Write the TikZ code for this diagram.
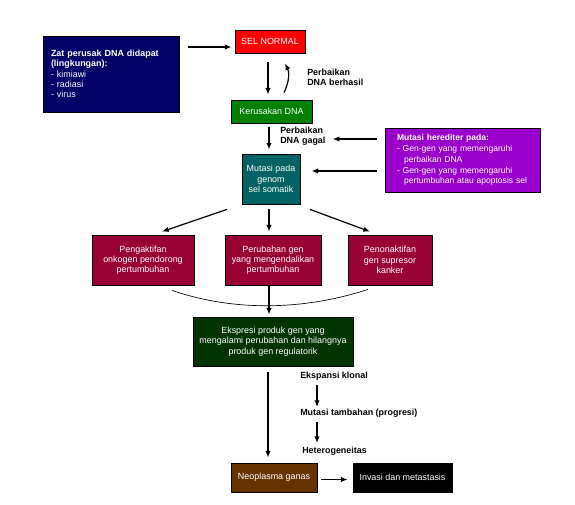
\documentclass[tikz,border=0pt]{standalone}
\usepackage{fontspec}
\setmainfont{Liberation Sans}
\usetikzlibrary{arrows.meta,calc}
\definecolor{cNavy}{HTML}{000066}
\definecolor{cRed}{HTML}{FF0000}
\definecolor{cGreen}{HTML}{008000}
\definecolor{cTeal}{HTML}{006262}
\definecolor{cPurple}{HTML}{9900CC}
\definecolor{cCrimson}{HTML}{990033}
\definecolor{cDkGreen}{HTML}{003300}
\definecolor{cBrown}{HTML}{663300}
\tikzset{
  box/.style={draw=black, line width=0.6pt, text=white, align=center, inner sep=0pt,
    font=\fontsize{6.7}{7.7}\selectfont},
  lbl/.style={anchor=west, align=left, inner sep=0pt, font=\fontsize{6.7}{7.6}\selectfont\bfseries},
  arr/.style={-{Latex[length=5pt,width=4pt]}, line width=0.9pt},
}
\begin{document}
\begin{tikzpicture}[x=0.75pt,y=-0.75pt]
\useasboundingbox (0,0) rectangle (575,504);

\node[box, fill=cNavy, minimum height=57pt, text width=90pt, inner xsep=6pt, align=left] (blue) at (111,74)
  {\textbf{Zat perusak DNA didapat}\\\textbf{(lingkungan):}\\- kimiawi\\- radiasi\\- virus};
\node[box, fill=cRed, minimum width=52.5pt, minimum height=17.25pt] (sel) at (270,41.5) {SEL NORMAL};
\node[box, fill=cGreen, minimum width=60.75pt, minimum height=17.25pt] (ker) at (271.5,111.5) {Kerusakan DNA};
\node[box, fill=cTeal, minimum width=43.5pt, minimum height=37.5pt] (mut) at (271,179) {Mutasi pada\\genom\\sel somatik};
\node[box, fill=cPurple, minimum height=48pt, text width=104.25pt, inner xsep=6pt, align=left,
  font=\fontsize{6.4}{8.1}\selectfont] (pur) at (462.5,160)
  {\hspace*{3pt}\textbf{Mutasi herediter pada:}\\\hspace*{3pt}- Gen-gen yang memengaruhi\\\hspace*{8.3pt}perbaikan DNA\\\hspace*{3pt}- Gen-gen yang memengaruhi\\\hspace*{8.3pt}pertumbuhan atau apoptosis sel};
\node[box, fill=cCrimson, minimum width=76.5pt, minimum height=37.5pt] (redL) at (143,260) {Pengaktifan\\onkogen pendorong\\pertumbuhan};
\node[box, fill=cCrimson, minimum width=72pt, minimum height=37.5pt] (redM) at (273,260) {Perubahan gen\\yang mengendalikan\\pertumbuhan};
\node[box, fill=cCrimson, minimum width=63pt, minimum height=37.5pt] (redR) at (390,260) {Penonaktifan\\gen supresor\\kanker};
\node[box, fill=cDkGreen, minimum width=120pt, minimum height=36.75pt] (dg) at (273,341.5) {Ekspresi produk gen yang\\mengalami perubahan dan hilangnya\\produk gen regulatorik};
\node[box, fill=cBrown, minimum width=64.5pt, minimum height=21.75pt] (neo) at (274,477.5) {Neoplasma ganas};
\node[box, fill=black, minimum width=74.25pt, minimum height=21.75pt] (inv) at (402.5,477.5) {Invasi dan metastasis};

\node[lbl] (berhasil) at (307,77) {Perbaikan\\DNA berhasil};
\node[lbl] (gagal) at (280,136) {Perbaikan\\DNA gagal};
\node[lbl] (eks) at (300,376) {Ekspansi klonal};
\node[lbl] (mt) at (300,413) {Mutasi tambahan (progresi)};
\node[lbl] (het) at (302,451) {Heterogeneitas};

\draw[arr] ($(blue.east |- sel.west)+(9,5.5)$) -- ($(sel.west)+(-3,5.5)$);
\draw[arr] ($(sel.south)+(-2,9)$) -- ($(sel.south |- ker.north)+(-2,-5)$);
\draw[arr] ($(ker.north)+(12.5,-7)$) .. controls +(6,-12) and +(4,8) .. ($(sel.south)+(15,10)$);
\draw[arr] ($(ker.south)+(-2.5,4)$) -- ($(ker.south |- mut.north)+(-2.5,-4)$);
\draw[arr] ($(pur.west)+(-8,-21)$) -- ($(gagal.east |- pur.west)+(7,-21)$);
\draw[arr] ($(pur.west)+(-8,11)$) -- ($(mut.east |- pur.west)+(11,11)$);
\draw[arr] ($(mut.south)+(-44,5)$) -- ($(redL.north)+(19,-3)$);
\draw[arr] ($(mut.south)+(-2,5)$) -- ($(redM.north)+(-4,-3)$);
\draw[arr] ($(mut.south)+(39,5)$) -- ($(redR.north)+(-20,-3)$);
\draw[line width=0.5pt] ($(redL.south)+(29,5)$) .. controls (235,312) and (305,310) .. ($(redR.south)+(-22,4)$);
\draw[arr] ($(redM.south)+(-4,0)$) -- ($(redM.south |- dg.north)+(-4,-2)$);
\draw[arr] ($(dg.south)+(-5,6)$) -- ($(dg.south |- neo.north)+(-5,-5)$);
\draw[arr] ($(eks.west)+(17,9)$) -- ($(mt.west)+(17,-6)$);
\draw[arr] ($(mt.west)+(17,9)$) -- ($(het.west)+(15,-8)$);
\draw[arr] ($(neo.east)+(4,2)$) -- ($(inv.west)+(-5,2)$);
\end{tikzpicture}
\end{document}
